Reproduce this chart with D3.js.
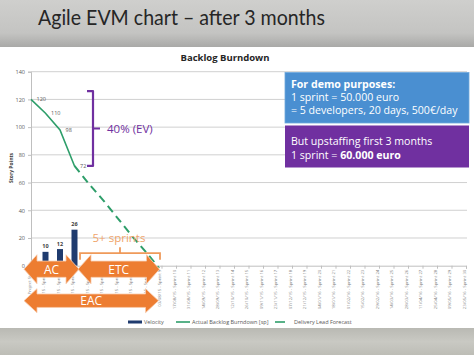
<!DOCTYPE html>
<html><head><meta charset="utf-8">
<script src="https://cdn.jsdelivr.net/npm/d3@7"></script>
<style>html,body{margin:0;padding:0;background:#fff;overflow:hidden}</style>
</head><body>
<svg id="c" width="474" height="355"></svg>
<script>
// ---- data ----
const categories = ["Project Start",
 "13/04/15 - Sprint 1","27/04/15 - Sprint 2","11/05/15 - Sprint 3","25/05/15 - Sprint 4",
 "08/06/15 - Sprint 5","22/06/15 - Sprint 6","06/07/15 - Sprint 7","20/07/15 - Sprint 8",
 "03/08/15 - Sprint 9","17/08/15 - Sprint 10","31/08/15 - Sprint 11","14/09/15 - Sprint 12",
 "28/09/15 - Sprint 13","12/10/15 - Sprint 14","26/10/15 - Sprint 15","09/11/15 - Sprint 16",
 "23/11/15 - Sprint 17","07/12/15 - Sprint 18","21/12/15 - Sprint 19","04/01/16 - Sprint 20",
 "18/01/16 - Sprint 21","01/02/16 - Sprint 22","15/02/16 - Sprint 23","29/02/16 - Sprint 24",
 "14/03/16 - Sprint 25","28/03/16 - Sprint 26","11/04/16 - Sprint 27","25/04/16 - Sprint 28",
 "09/05/16 - Sprint 29","23/05/16 - Sprint 30"];
const velocity = [null, 10, 12, 26];                 // bars
const actualBurndown = [120, 110, 98, 72];           // solid line
const forecast = [null, null, null, 72, 59, 47, 34, 21, 9, -4]; // dashed line
const yTicks = [0, 20, 40, 60, 80, 100, 120, 140];
const legendNames = ["Velocity", "Actual Backlog Burndown [sp]", "Delivery Lead Forecast"];
const blueLines = ["For demo purposes:", "1 sprint = 50.000 euro", "= 5 developers, 20 days, 500€/day"];
const purpleLine1 = "But upstaffing first 3 months";

// ---- setup ----
const svg = d3.select("#c");
const font = "'Open Sans', 'Liberation Sans', sans-serif";
const defs = svg.append("defs");
const g1 = defs.append("linearGradient").attr("id","hdr").attr("x1",0).attr("y1",0).attr("x2",0).attr("y2",1);
g1.append("stop").attr("offset","0%").attr("stop-color","#cfcfcd");
g1.append("stop").attr("offset","70%").attr("stop-color","#c4c4c2");
g1.append("stop").attr("offset","100%").attr("stop-color","#a9a9a7");
const g2 = defs.append("linearGradient").attr("id","ftr").attr("x1",0).attr("y1",0).attr("x2",0).attr("y2",1);
g2.append("stop").attr("offset","0%").attr("stop-color","#b9b9b3");
g2.append("stop").attr("offset","50%").attr("stop-color","#c9c9c3");
g2.append("stop").attr("offset","100%").attr("stop-color","#bdbdb6");

svg.append("rect").attr("width",474).attr("height",355).attr("fill","#fff");
svg.append("rect").attr("x",0).attr("y",0).attr("width",474).attr("height",47).attr("fill","url(#hdr)");
svg.append("rect").attr("x",0).attr("y",328).attr("width",474).attr("height",27).attr("fill","url(#ftr)");

svg.append("text").attr("x",38).attr("y",25).attr("font-family","Lato, 'Open Sans', sans-serif")
  .attr("font-weight",400).attr("font-size",22).attr("fill","#262626")
  .attr("textLength",287).attr("lengthAdjust","spacingAndGlyphs")
  .text("Agile EVM chart – after 3 months");

svg.append("text").attr("x",225).attr("y",61).attr("text-anchor","middle")
  .attr("font-family",font).attr("font-weight","bold").attr("font-size",9.5).attr("fill","#262626")
  .text("Backlog Burndown");

const x = d3.scalePoint().domain(categories).range([31, 466]);
const y = d3.scaleLinear().domain([0, 140]).range([265.7, 71.7]);

// gridlines
svg.append("g").selectAll("line").data(yTicks.filter(d=>d>0)).join("line")
  .attr("x1",31).attr("x2",467).attr("y1",d=>y(d)).attr("y2",d=>y(d))
  .attr("stroke","#d0d0d0").attr("stroke-width",1);

// y axis
const ya = svg.append("g").attr("transform","translate(31,0)")
  .call(d3.axisLeft(y).tickValues(yTicks).tickSize(3).tickPadding(3));
ya.select(".domain").attr("stroke","#bfbfbf");
ya.selectAll(".tick line").attr("stroke","#bfbfbf");
ya.selectAll("text").attr("font-family",font).attr("font-size",5.5).attr("fill","#595959");

svg.append("text").attr("transform","translate(13,168) rotate(-90)").attr("text-anchor","middle")
  .attr("font-family",font).attr("font-weight","bold").attr("font-size",5).attr("fill","#404040")
  .text("Story Points");

// x axis
const xa = svg.append("g").attr("transform",`translate(0,${y(0)})`)
  .call(d3.axisBottom(x).tickSize(3).tickPadding(2));
xa.select(".domain").attr("stroke","#bfbfbf");
xa.selectAll(".tick line").attr("stroke","#bfbfbf");
xa.selectAll("text").attr("font-family",font).attr("font-size",4.3).attr("fill","#7f7f7f")
  .attr("transform","rotate(-90)").attr("text-anchor","end").attr("dx","-4").attr("dy","-0.5em")
  .attr("x",0).attr("y",0).style("dominant-baseline","middle");

// bars
const vdata = velocity.map((v,i)=>({c:categories[i], v})).filter(d=>d.v!=null);
svg.append("g").selectAll("rect").data(vdata).join("rect")
  .attr("x",d=>x(d.c)-3).attr("width",6).attr("y",d=>y(d.v)).attr("height",d=>y(0)-y(d.v))
  .attr("fill","#1f3b6e");
svg.append("g").selectAll("text").data(vdata).join("text")
  .attr("x",d=>x(d.c)).attr("y",d=>y(d.v)-3.5).attr("text-anchor","middle")
  .attr("font-family",font).attr("font-size",5.5).attr("font-weight","bold").attr("fill","#404040")
  .text(d=>d.v);

// clip
defs.append("clipPath").attr("id","plot").append("rect").attr("x",31).attr("y",60).attr("width",440).attr("height",y(0)-60+2);

// forecast
const fdata = forecast.map((v,i)=>({c:categories[i], v})).filter(d=>d.v!=null);
svg.append("path").datum(fdata).attr("clip-path","url(#plot)")
  .attr("d", d3.line().x(d=>x(d.c)).y(d=>y(d.v)))
  .attr("fill","none").attr("stroke","#2e9e6a").attr("stroke-width",2).attr("stroke-dasharray","8,5");

// actual burndown
const adata = actualBurndown.map((v,i)=>({c:categories[i], v}));
svg.append("path").datum(adata)
  .attr("d", d3.line().x(d=>x(d.c)).y(d=>y(d.v)))
  .attr("fill","none").attr("stroke","#2e9e6a").attr("stroke-width",1.6);
svg.append("g").selectAll("text").data(adata).join("text")
  .attr("x",d=>x(d.c)+5.5).attr("y",d=>y(d.v)+2)
  .attr("font-family",font).attr("font-size",5.5).attr("fill","#595959")
  .text(d=>d.v);

// purple bracket 40% (EV)
const purple = "#7030a0";
const bt = y(126), bb = y(72), bm = y(99), bx = x(categories[4]) + 4;
svg.append("path").attr("d",`M${bx-6},${bt} L${bx},${bt} L${bx},${bb} L${bx-6},${bb} M${bx},${bm} L${bx+7},${bm}`)
  .attr("fill","none").attr("stroke",purple).attr("stroke-width",2.2).attr("stroke-linejoin","round");
svg.append("text").attr("x",bx+14).attr("y",bm+4.5).attr("font-family",font).attr("font-size",11.5)
  .attr("fill",purple).text("40% (EV)");

// orange annotations
const orange = "#ed7d31";
function dblArrow(x0,x1,yt,yb,h){
  const ym=(yt+yb)/2, s=(yb-yt)*0.22;
  return `M${x0},${ym} L${x0+h},${yt} L${x0+h},${yt+s} L${x1-h},${yt+s} L${x1-h},${yt} L${x1},${ym} L${x1-h},${yb} L${x1-h},${yb-s} L${x0+h},${yb-s} L${x0+h},${yb} Z`;
}
const y0 = y(0);
const xs = x(categories[0]), x3 = x(categories[3]), x9 = x(categories[9]);
const arrows = [
  {x0: xs-7, x1: x3+4.5, yt: y0-11, yb: y0+18, label:"AC"},
  {x0: x3+3.5, x1: x9-2, yt: y0-11, yb: y0+18, label:"ETC"},
  {x0: xs-7, x1: x9-3, yt: y0+23, yb: y0+47, label:"EAC"}
];
svg.append("g").selectAll("path").data(arrows).join("path")
  .attr("d",d=>dblArrow(d.x0,d.x1,d.yt,d.yb,13))
  .attr("fill",orange).attr("stroke","#f8cbad").attr("stroke-width",0.8);
svg.append("g").selectAll("text").data(arrows).join("text")
  .attr("x",d=>(d.x0+d.x1)/2).attr("y",d=>(d.yt+d.yb)/2+4.5).attr("text-anchor","middle")
  .attr("font-family",font).attr("font-size",12).attr("fill","#fff").text(d=>d.label);

// 5+ sprints brace
const bx0 = x3+5.5, bx1 = x9-1.5, bmx = (bx0+bx1)/2, byl = y0-12.5;
svg.append("path").attr("d",`M${bx0},${y0-6} L${bx0},${byl} L${bmx},${byl} L${bmx},${byl-6} M${bmx},${byl} L${bx1},${byl} L${bx1},${y0-6}`)
  .attr("fill","none").attr("stroke","#ef9a5a").attr("stroke-width",1.8);
svg.append("text").attr("x",bmx-1).attr("y",byl-11).attr("text-anchor","middle")
  .attr("font-family",font).attr("font-size",11.5).attr("fill","#f0a46a").text("5+ sprints");

// text boxes
svg.append("rect").attr("x",285).attr("y",72.5).attr("width",184).attr("height",50.5)
  .attr("fill","#4a8fd1").attr("stroke","#6fa8dc").attr("stroke-width",0.8);
svg.append("g").selectAll("text").data(blueLines).join("text")
  .attr("x",291).attr("y",(d,i)=>88+i*13.2)
  .attr("font-family",font).attr("font-size",10.6).attr("font-weight",(d,i)=>i===0?"bold":"normal")
  .attr("fill","#fff").text(d=>d);
svg.append("rect").attr("x",285).attr("y",125.5).attr("width",184).attr("height",42)
  .attr("fill",purple);
svg.append("text").attr("x",291).attr("y",145).attr("font-family",font).attr("font-size",10.6)
  .attr("fill","#fff").text(purpleLine1);
const t2 = svg.append("text").attr("x",291).attr("y",158.5).attr("font-family",font).attr("font-size",10.6).attr("fill","#fff");
t2.append("tspan").text("1 sprint = ");
t2.append("tspan").attr("font-weight","bold").text("60.000 euro");

// legend
const lg = svg.append("g").attr("font-family",font).attr("font-size",5.5).attr("fill","#595959");
const legendPos = [128, 176, 275];
legendNames.forEach((n,i)=>{
  const lx = legendPos[i];
  if(i===0) lg.append("rect").attr("x",lx).attr("y",320.5).attr("width",14).attr("height",3).attr("fill","#1f3b6e");
  else lg.append("line").attr("x1",lx).attr("x2",lx+(i===1?14:10)).attr("y1",322).attr("y2",322)
        .attr("stroke","#2e9e6a").attr("stroke-width",1.6);
  lg.append("text").attr("x",lx+(i===2?19:16)).attr("y",324).text(n);
});
</script>
</body></html>
